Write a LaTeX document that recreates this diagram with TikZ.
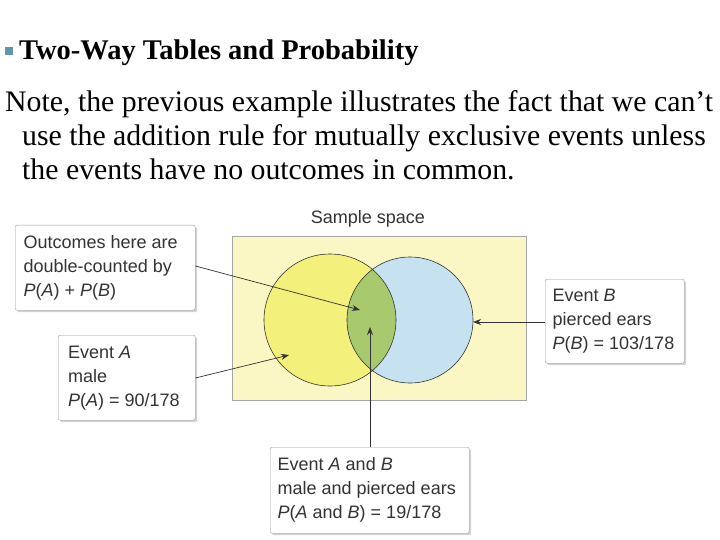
\documentclass[tikz,border=0pt]{standalone}
\usepackage{fontspec}
\setmainfont{Liberation Serif}
\newfontfamily\lsans{Liberation Sans}
\usetikzlibrary{shadows,arrows.meta}
\definecolor{ssyellow}{HTML}{FBF7C4}
\definecolor{cya}{HTML}{F4F07C}
\definecolor{cyb}{HTML}{C6E2F0}
\definecolor{cyab}{HTML}{A8C96E}
\definecolor{txtg}{HTML}{333333}
\definecolor{bul}{HTML}{5A9AA8}
\tikzset{
 lbl/.style={draw=gray!80,fill=white,rounded corners=2pt,drop shadow={opacity=0.35,shadow xshift=2pt,shadow yshift=-2pt},
   font=\lsans\fontsize{18}{24}\selectfont,text=txtg,align=left,anchor=north west,inner sep=0pt},
 arr/.style={-{Stealth[length=8pt,width=6pt]},draw=txtg,line width=0.7pt}
}
\begin{document}
\begin{tikzpicture}[x=1pt,y=-1pt]
\useasboundingbox (0,0) rectangle (720,540);
\fill[bul] (5,47) rectangle (13,55);
\node[anchor=west,inner sep=0pt,font=\bfseries\fontsize{28.5}{30}\selectfont] (title) at (19,53) {Two-Way Tables and Probability};
\node[anchor=north west,inner sep=0pt,align=left,font=\fontsize{29.8}{34}\selectfont] (para) at (5,90)
 {Note, the previous example illustrates the fact that we can’t\\
 \hspace*{17pt}use the addition rule for mutually exclusive events unless\\
 \hspace*{17pt}the events have no outcomes in common.};
\node[font=\lsans\fontsize{18}{20}\selectfont,text=txtg] (ss) at (368,219) {Sample space};
\draw[gray!70,fill=ssyellow] (232,236) rectangle (526,400);
\fill[cyb] (410,320) circle (63);
\fill[cya] (330,320) circle (66);
\begin{scope}
\clip (330,320) circle (66);
\fill[cyab] (410,320) circle (63);
\end{scope}
\draw[txtg,line width=0.6pt] (330,320) circle (66) (410,320) circle (63);
\node[lbl,minimum width=180pt,minimum height=85pt] (b1) at (15,225)
 {\hspace*{7pt}\parbox{170pt}{Outcomes here are\\double-counted by\\\textit{P}(\textit{A}) + \textit{P}(\textit{B})}};
\node[lbl,minimum width=137pt,minimum height=85pt] (b2) at (58,335)
 {\hspace*{8pt}\parbox{125pt}{Event \textit{A}\\male\\\textit{P}(\textit{A}) = 90/178}};
\node[lbl,minimum width=139pt,minimum height=84pt] (b3) at (545,279)
 {\hspace*{6pt}\parbox{130pt}{Event \textit{B}\\pierced ears\\\textit{P}(\textit{B}) = 103/178}};
\node[lbl,minimum width=199pt,minimum height=86pt] (b4) at (270,447)
 {\hspace*{6pt}\parbox{190pt}{Event \textit{A} and \textit{B}\\male and pierced ears\\\textit{P}(\textit{A} and \textit{B}) = 19/178}};
\coordinate (t1) at (360,310);
\coordinate (t2) at (289,355);
\coordinate (t3) at (473,322);
\coordinate (t4) at (370,327);
\draw[arr] (b1.east |- 0,266) -- (t1);
\draw[arr] (b2.east |- 0,378) -- (t2);
\draw[arr] (b3.west |- 0,322) -- (t3);
\draw[arr] (b4.north -| t4) -- (t4);
\end{tikzpicture}
\end{document}
